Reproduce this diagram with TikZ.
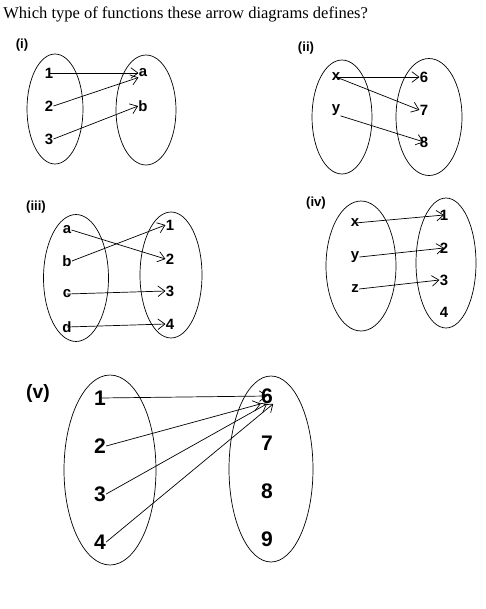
\documentclass[tikz,border=0pt]{standalone}
\usepackage{fontspec}
\setmainfont{Liberation Serif}
\setsansfont{Liberation Sans}
\usetikzlibrary{positioning,shapes.geometric,arrows.meta}

\tikzset{
  set/.style={ellipse, draw, inner sep=0pt},
  elem/.style={inner sep=0pt, font=\sffamily\bfseries\fontsize{8.5}{9}\selectfont},
  bigelem/.style={inner sep=0pt, font=\sffamily\bfseries\fontsize{12}{13}\selectfont},
  tag/.style={inner sep=0pt, font=\sffamily\bfseries\fontsize{7.5}{8}\selectfont},
  map/.style={-{Straight Barb[length=4pt,width=6pt]}, thin}
}

\begin{document}
\begin{tikzpicture}[x=0.02cm, y=-0.02cm]
\useasboundingbox (0,0) rectangle (486,609);

% Title
\node (title) [anchor=base west, inner sep=0pt, font=\fontsize{9.4}{11}\selectfont] at (3,18) {Which type of functions these arrow diagrams defines?};

% (i)
\node (ti) [tag] at (22,45) {(i)};
\node (Ai) [set, minimum width=1.12cm, minimum height=2.2cm] at (55,109) {};
\node (Bi) [set, minimum width=1.2cm, minimum height=2.2cm] at (146,110) {};
\node (i1) [elem] at (49,73) {1};
\node (i2) [elem] at (49,106) {2};
\node (i3) [elem] at (49,139) {3};
\node (ia) [elem] at (143,73) {a};
\node (ib) [elem] at (143,106) {b};
\draw[map] (i1.center) -- (ia.west);
\draw[map] (i2.east) -- (ia.south west);
\draw[map] (i3.east) -- (ib.west);

% (ii)
\node (tii) [tag] at (306,48) {(ii)};
\node (Aii) [set, minimum width=1.2cm, minimum height=2.28cm] at (342,117) {};
\node (Bii) [set, minimum width=1.32cm, minimum height=2.34cm] at (429,117) {};
\node (iix) [elem] at (336,77) {x};
\node (iiy) [elem] at (336,110) {y};
\node (ii6) [elem] at (424,77) {6};
\node (ii7) [elem] at (424,110) {7};
\node (ii8) [elem] at (424,142) {8};
\draw[map] (iix.center) -- (ii6.west);
\draw[map] (iix.center) -- (ii7.west);
\draw[map] (iiy.south east) -- (ii8.center);

% (iii)
\node (tiii) [tag] at (36,207) {(iii)};
\node (Aiii) [set, minimum width=1.3cm, minimum height=2.54cm] at (76,278) {};
\node (Biii) [set, minimum width=1.24cm, minimum height=2.52cm] at (171,275) {};
\node (iiia) [elem] at (67,230) {a};
\node (iiib) [elem] at (67,261) {b};
\node (iiic) [elem] at (67,294) {c};
\node (iiid) [elem] at (67,327) {d};
\node (iii1) [elem] at (170,225) {1};
\node (iii2) [elem] at (170,259) {2};
\node (iii3) [elem] at (170,291) {3};
\node (iii4) [elem] at (170,324) {4};
\draw[map] (iiia.east) -- (iii2.west);
\draw[map] (iiib.east) -- (iii1.west);
\draw[map] (iiic.center) -- (iii3.west);
\draw[map] (iiid.center) -- (iii4.west);

% (iv)
\node (tiv) [tag] at (316,203) {(iv)};
\node (Aiv) [set, minimum width=1.4cm, minimum height=2.6cm] at (361,266) {};
\node (Biv) [set, minimum width=1.2cm, minimum height=2.6cm] at (446,263) {};
\node (ivx) [elem] at (355,223) {x};
\node (ivy) [elem] at (355,257) {y};
\node (ivz) [elem] at (355,289) {z};
\node (iv1) [elem] at (444,215) {1};
\node (iv2) [elem] at (444,248) {2};
\node (iv3) [elem] at (444,280) {3};
\node (iv4) [elem] at (444,312) {4};
\draw[map] (ivx.center) -- (iv1.center);
\draw[map] (ivy.east) -- (iv2.center);
\draw[map] (ivz.east) -- (iv3.west);

% (v)
\node (tv) [tag, font=\sffamily\bfseries\fontsize{11}{12}\selectfont] at (38,393) {(v)};
\node (Av) [set, minimum width=1.84cm, minimum height=3.8cm] at (110,470) {};
\node (Bv) [set, minimum width=1.68cm, minimum height=3.72cm] at (271,469) {};
\node (v1) [bigelem] at (100,398) {1};
\node (v2) [bigelem] at (100,446) {2};
\node (v3) [bigelem] at (100,494) {3};
\node (v4) [bigelem] at (100,542) {4};
\node (v6) [bigelem] at (267,396) {6};
\node (v7) [bigelem] at (267,443) {7};
\node (v8) [bigelem] at (267,491) {8};
\node (v9) [bigelem] at (267,539) {9};
\draw[map] (v1.center) -- (v6.center);
\draw[map] (v2.east) -- (v6.south west);
\draw[map] (v3.east) -- (v6.south);
\draw[map] (v4.east) -- (v6.south east);

\end{tikzpicture}
\end{document}
